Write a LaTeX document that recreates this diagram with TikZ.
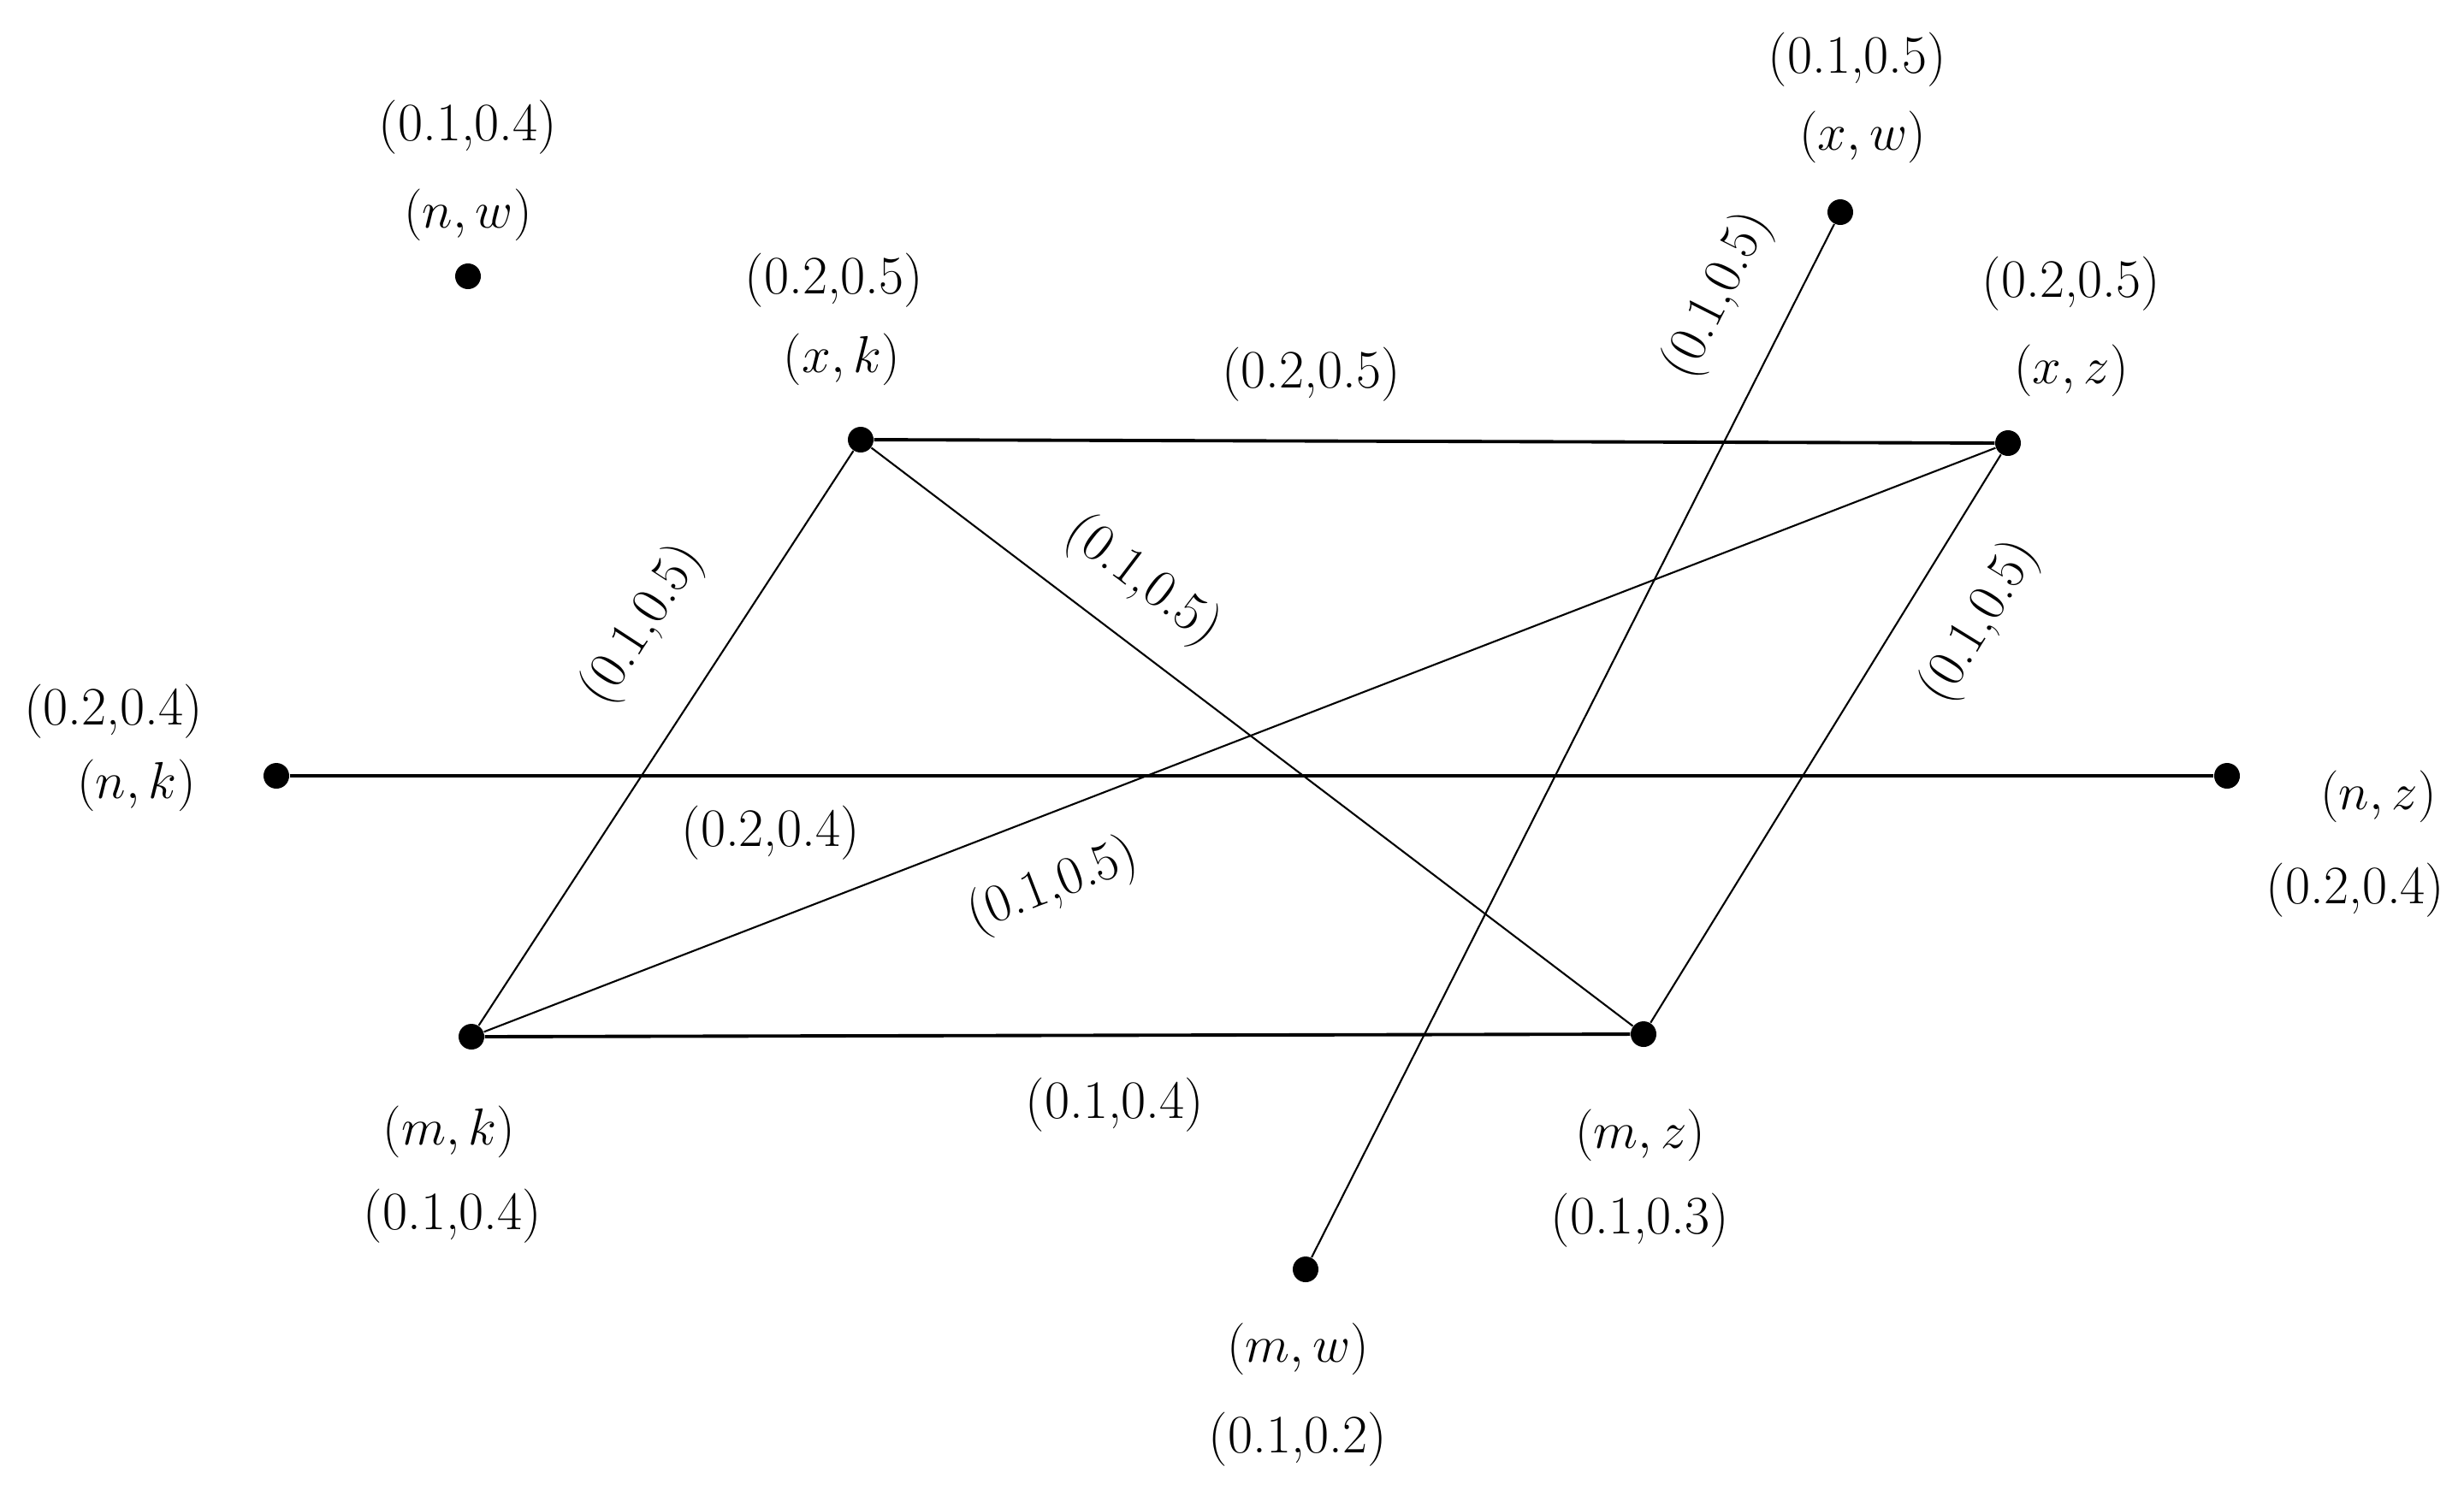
\documentclass[tikz,border=0pt]{standalone}
\usepackage{xcolor,tikz}
\usetikzlibrary{positioning}
\begin{document}
\begin{tikzpicture}
  \newcommand{\namesep}[0]{0.25cm}
  \newcommand{\valsep}[0]{0.40cm}
  \tikzstyle{vertex}        = [circle, fill=black, inner sep=0pt, minimum size=0.30cm]
  \tikzstyle{tag}           = [inner sep=0pt, text height=0.45cm, text depth=0.15cm, font=\fontsize{18}{21}\selectfont]
  \tikzstyle{nametag}       = [tag, font=\fontsize{16}{19}\selectfont]
  \tikzstyle{connector}     = [line width=0.6pt]
  \tikzstyle{boldconnector} = [line width=1.1pt]
  \useasboundingbox (0,0) rectangle (28.8,-17.48);
  \node [vertex] (nw) at (5.47,-3.23)   {};
  \node [vertex] (xk) at (10.06,-5.14)  {};
  \node [vertex] (xw) at (21.51,-2.48)  {};
  \node [vertex] (xz) at (23.47,-5.18)  {};
  \node [vertex] (nk) at (3.23,-9.07)   {};
  \node [vertex] (nz) at (26.03,-9.07)  {};
  \node [vertex] (mk) at (5.51,-12.12)  {};
  \node [vertex] (mz) at (19.21,-12.09) {};
  \node [vertex] (mw) at (15.26,-14.84) {};
  \draw [boldconnector] (xk) edge node [tag, pos=0.39, above=0.45cm] (xkxz) {(0.2,0.5)} (xz);
  \draw [boldconnector] (nk) edge node [tag, pos=0.25, below=0.36cm] (nknz) {(0.2,0.4)} (nz);
  \draw [boldconnector] (mk) edge node [tag, pos=0.55, below=0.50cm] (mkmz) {(0.1,0.4)} (mz);
  \draw [connector] (mk) edge node [tag, sloped, pos=0.62, above=0.63cm] (mkxk) {(0.1,0.5)} (xk);
  \draw [connector] (xk) edge node [tag, sloped, pos=0.31, above=0.36cm] (xkmz) {(0.1,0.5)} (mz);
  \draw [connector] (mz) edge node [tag, sloped, pos=0.77, below=0.52cm] (mzxz) {(0.1,0.5)} (xz);
  \draw [connector] (mw) edge node [tag, sloped, pos=0.90, above=0.52cm] (mwxw) {(0.1,0.5)} (xw);
  \draw [connector] (mk) edge node [tag, sloped, pos=0.36, below=0.51cm] (mkxz) {(0.1,0.5)} (xz);
  \node [nametag, above = \namesep of nw]                    (nwname) {$(n,w)$};
  \node [tag, above = 0.41cm of nwname]                      (nwval)  {(0.1,0.4)};
  \node [nametag, above = 0.47cm of xk, xshift=-0.22cm]      (xkname) {$(x,k)$};
  \node [tag, above = 0.31cm of xkname, xshift=-0.09cm]      (xkval)  {(0.2,0.5)};
  \node [nametag, above = 0.41cm of xw, xshift=0.26cm]       (xwname) {$(x,w)$};
  \node [tag, above = 0.29cm of xwname, xshift=-0.06cm]      (xwval)  {(0.1,0.5)};
  \node [nametag, above = 0.38cm of xz, xshift=0.74cm]       (xzname) {$(x,z)$};
  \node [tag, above = \valsep of xzname]                     (xzval)  {(0.2,0.5)};
  \node [nametag, left = 0.78cm of nk, yshift=-0.11cm]       (nkname) {$(n,k)$};
  \node [tag, above = 0.24cm of nkname, xshift=-0.27cm]      (nkval)  {(0.2,0.4)};
  \node [nametag, right = 0.93cm of nz, yshift=-0.24cm]      (nzname) {$(n,z)$};
  \node [tag, below = 0.49cm of nzname, xshift=-0.27cm]      (nzval)  {(0.2,0.4)};
  \node [nametag, below = 0.65cm of mk, xshift=-0.26cm]      (mkname) {$(m,k)$};
  \node [tag, below = 0.38cm of mkname, xshift=0.04cm]       (mkval)  {(0.1,0.4)};
  \node [nametag, below = 0.72cm of mz, xshift=-0.04cm]      (mzname) {$(m,z)$};
  \node [tag, below = 0.39cm of mzname]                      (mzval)  {(0.1,0.3)};
  \node [nametag, below = 0.47cm of mw, xshift=-0.09cm]      (mwname) {$(m,w)$};
  \node [tag, below = 0.45cm of mwname]                      (mwval)  {(0.1,0.2)};
\end{tikzpicture}
\end{document}
